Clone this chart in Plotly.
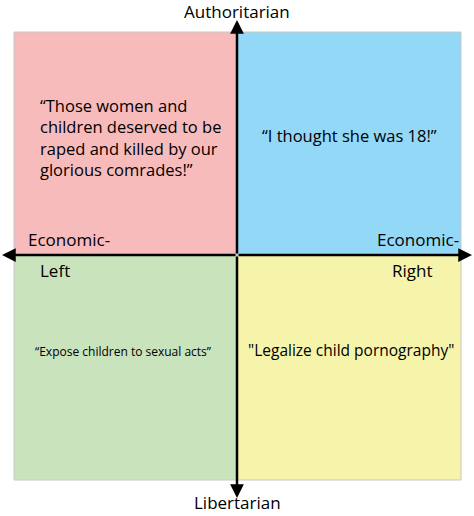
import plotly.graph_objects as go

W, H = 474, 516

quadrant_names = ["top-left", "top-right", "bottom-left", "bottom-right"]
quadrant_colors = ["#f8bbbb", "#93d8f7", "#c9e3bd", "#f5f4aa"]
quadrant_boxes = [(14, 32, 237, 255), (237, 32, 461, 255), (14, 255, 237, 480), (237, 255, 461, 480)]

quotes = [
    "“Those women and<br>children deserved to be<br>raped and killed by our<br>glorious comrades!”",
    "“I thought she was 18!”",
    "“Expose children to sexual acts”",
    "\"Legalize child pornography\"",
]
quote_pos = [(38, 137, "left", 16.5), (349, 135, "center", 16.5), (123, 351, "center", 12), (351, 350, "center", 15.5)]

axis_labels = ["Authoritarian", "Libertarian", "Economic-", "Left", "Economic-", "Right"]
axis_label_pos = [(237, 11, "center"), (237, 502, "center"), (26, 239, "left"),
                  (38, 270, "left"), (461, 239, "right"), (435, 270, "right")]

fig = go.Figure()
fig.add_trace(go.Scatter(x=[0, W], y=[0, H], mode="markers", marker=dict(opacity=0), hoverinfo="skip"))

for color, (x0, y0, x1, y1) in zip(quadrant_colors, quadrant_boxes):
    fig.add_shape(type="rect", x0=x0, y0=y0, x1=x1, y1=y1, fillcolor=color,
                  line=dict(color="#c8c8c8", width=1), layer="below")

# axes with arrowheads at both ends
for (xa, ya, xb, yb) in [(237, 255, 237, 20), (237, 255, 237, 498), (237, 255, 2, 255), (237, 255, 472, 255)]:
    fig.add_annotation(x=xb, y=yb, ax=xa, ay=ya, xref="x", yref="y", axref="x", ayref="y",
                       text="", showarrow=True, arrowhead=2, arrowsize=1.1, arrowwidth=2.5, arrowcolor="black")

for q, (x, y, align, size) in zip(quotes, quote_pos):
    fig.add_annotation(x=x, y=y, text=q, showarrow=False, xanchor=align,
                       align=align, font=dict(size=size, color="black"))

for t, (x, y, anchor) in zip(axis_labels, axis_label_pos):
    fig.add_annotation(x=x, y=y, text=t, showarrow=False, xanchor=anchor, font=dict(size=17, color="black"))

fig.update_layout(
    width=W, height=H, margin=dict(l=0, r=0, t=0, b=0),
    paper_bgcolor="white", plot_bgcolor="white", showlegend=False,
    font=dict(family="Open Sans"),
    xaxis=dict(range=[0, W], visible=False, fixedrange=True),
    yaxis=dict(range=[H, 0], visible=False, fixedrange=True),
)
fig.write_html("out.html", config={"displayModeBar": False},
               post_script="document.body.style.margin='0';document.body.style.overflow='hidden';")
